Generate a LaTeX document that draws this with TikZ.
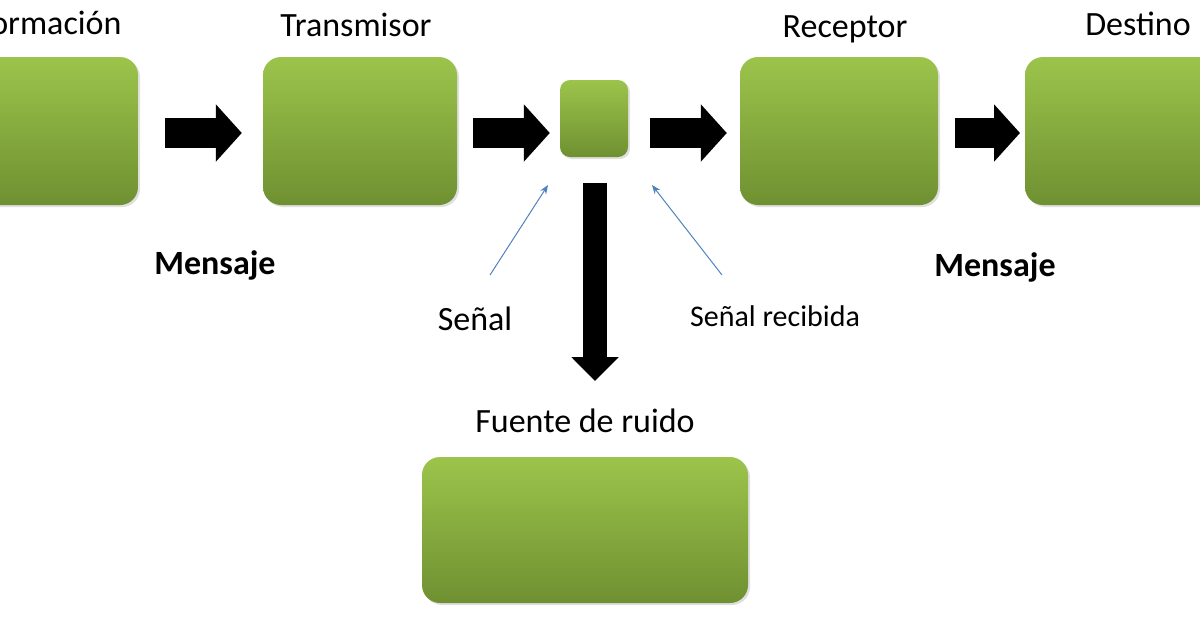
\documentclass[tikz,border=0pt]{standalone}
\usepackage{fontspec}
\setmainfont{Carlito}
\usetikzlibrary{arrows.meta,shadows}
\definecolor{gtop}{HTML}{9CC44B}
\definecolor{gbot}{HTML}{6F9031}
\definecolor{thinblue}{HTML}{4F81BD}
\begin{document}
\begin{tikzpicture}[x=1pt,y=-1pt,
 box/.style={draw=none,rounded corners=18pt,top color=gtop,bottom color=gbot,drop shadow={opacity=0.25,shadow xshift=2pt,shadow yshift=-2pt}},
 lbl/.style={font=\fontsize{34}{36}\selectfont},
 big/.style={line width=30pt,-{Triangle[width=56pt,length=26pt]},black},
 thinarr/.style={draw=thinblue,line width=1pt,-{Stealth[length=9pt,width=7pt]}}]
\useasboundingbox (0,0) rectangle (1200,630);
\clip (0,0) rectangle (1200,630);
\path[box] (-20,57) rectangle (138,205); \coordinate (info) at (138,133);
\node[box,minimum width=194pt,minimum height=148pt] (tx) at (360,131) {};
\node[box,minimum width=68pt,minimum height=77pt,rounded corners=10pt] (ch) at (594,118.5) {};
\node[box,minimum width=198pt,minimum height=148pt] (rx) at (839,131) {};
\path[box] (1025,57) rectangle (1220,205); \coordinate (dst) at (1025,133);
\node[box,minimum width=326pt,minimum height=146pt] (nz) at (585,530) {};
\node[lbl,anchor=base east] (linfo) at (125,34) {Información};
\node[lbl,anchor=base] (ltx) at (356,36) {Transmisor};
\node[lbl,anchor=base] (lrx) at (845,37) {Receptor};
\node[lbl,anchor=base] (ldst) at (1138,35) {Destino};
\node[lbl,anchor=base] (lnz) at (585,432) {Fuente de ruido};
\node[lbl,anchor=base,font=\bfseries\fontsize{34}{36}\selectfont] (m1) at (215,274) {Mensaje};
\node[lbl,anchor=base,font=\bfseries\fontsize{34}{36}\selectfont] (m2) at (995,276) {Mensaje};
\node[lbl,anchor=base] (s1) at (475,330) {Señal};
\node[lbl,anchor=base,font=\fontsize{30}{32}\selectfont] (s2) at (775,326) {Señal recibida};
\coordinate (ay) at (0,133);
\draw[big] ([xshift=27pt]info) -- ([xshift=-21pt]tx.west |- ay);
\draw[big] ([xshift=16pt]tx.east |- ay) -- ([xshift=-10pt]ch.west |- ay);
\draw[big] ([xshift=22pt]ch.east |- ay) -- ([xshift=-13pt]rx.west |- ay);
\draw[big] ([xshift=17pt]rx.east |- ay) -- ([xshift=-5pt]dst);
\draw[line width=24pt,-{Triangle[width=46pt,length=24pt]},black] (595,183) -- (595,381);
\coordinate (a1) at (490,275); \coordinate (a2) at (722,275);
\draw[thinarr] (a1) -- (548,185);
\draw[thinarr] (a2) -- (652,185);
\end{tikzpicture}
\end{document}
